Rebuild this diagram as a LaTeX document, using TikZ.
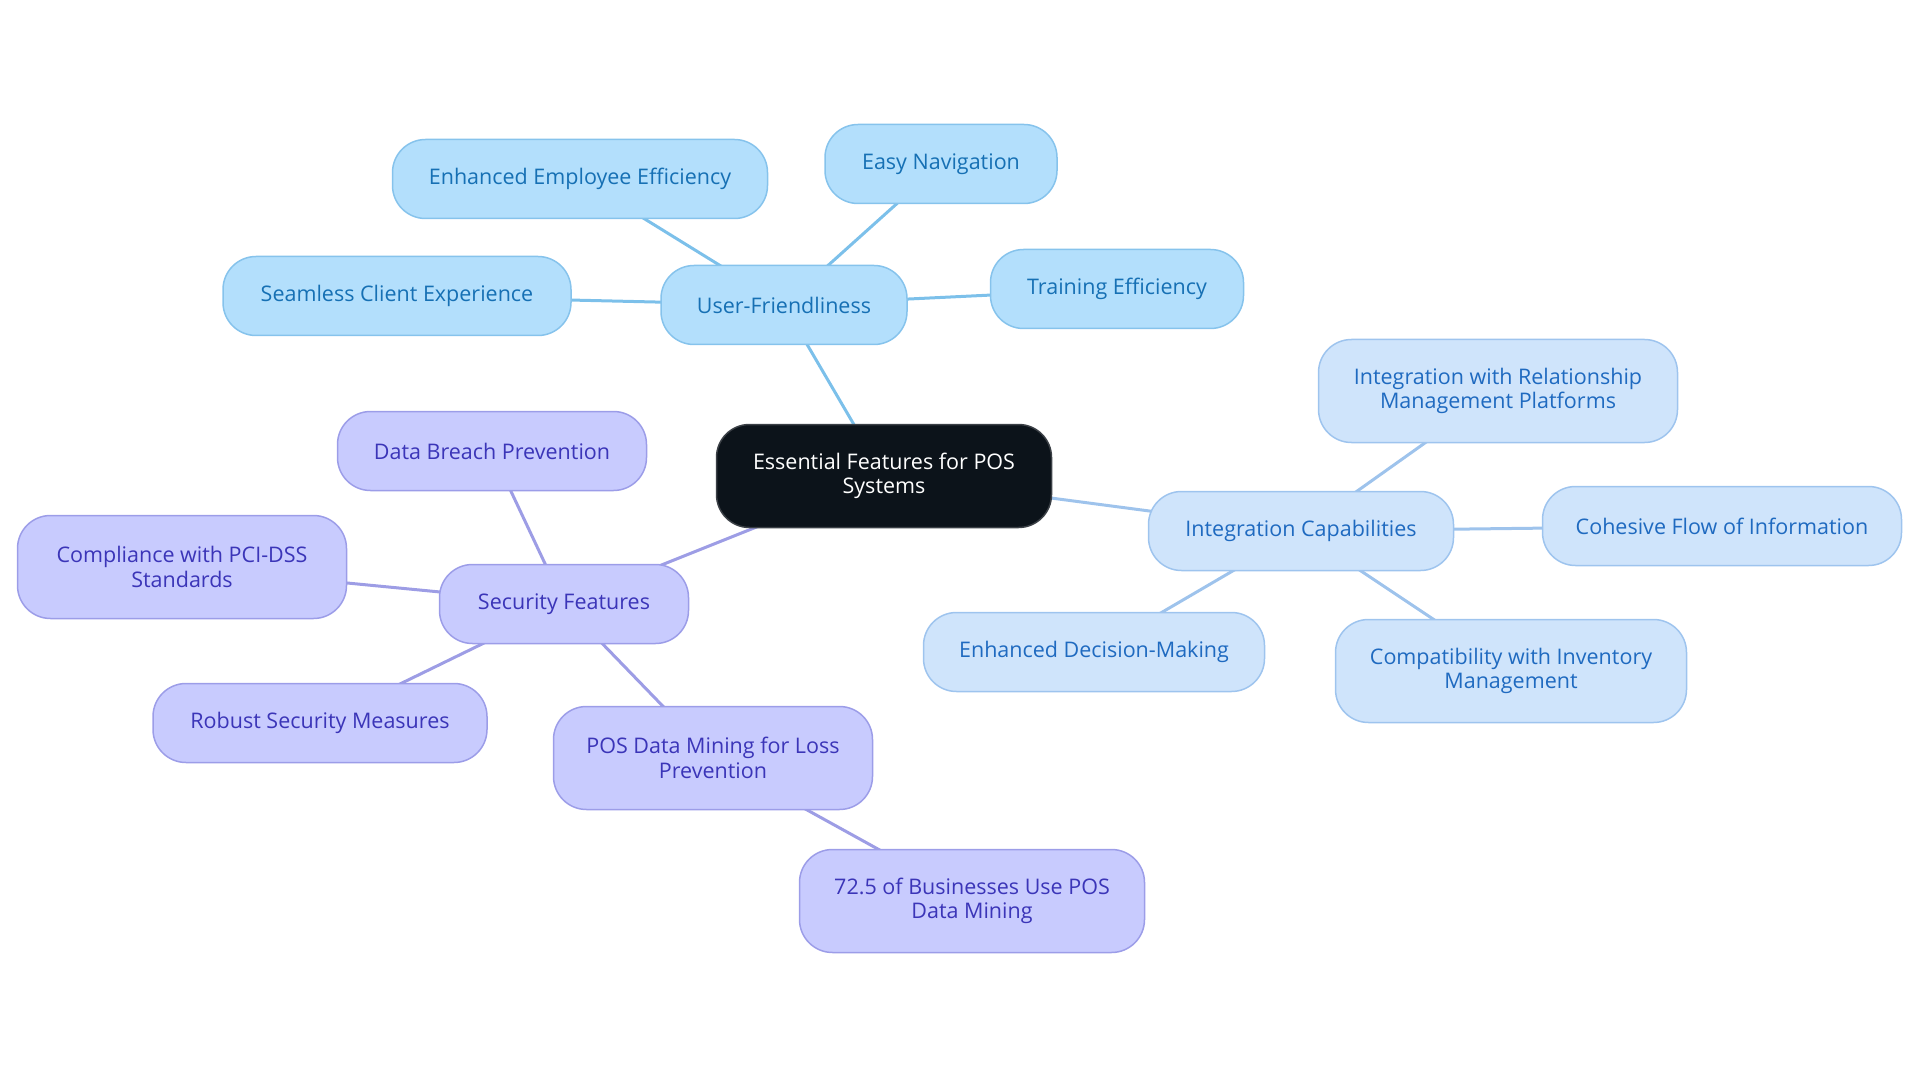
\documentclass[tikz,border=0pt]{standalone}
\usepackage{fontspec}
\setmainfont{Open Sans}
\usetikzlibrary{backgrounds}

\newlength{\du}
\setlength{\du}{1pt}

\definecolor{rootfill}{HTML}{0C131A}
\definecolor{rootline}{HTML}{3B4046}
\definecolor{userfill}{HTML}{B3DFFC}
\definecolor{userline}{HTML}{86C3EC}
\definecolor{usertext}{HTML}{1670B4}
\definecolor{userlink}{HTML}{7CC0EA}
\definecolor{intgfill}{HTML}{CFE4FB}
\definecolor{intgline}{HTML}{9EC4EE}
\definecolor{intgtext}{HTML}{1F6AC0}
\definecolor{intglink}{HTML}{9EC3EC}
\definecolor{secufill}{HTML}{C8CBFE}
\definecolor{seculine}{HTML}{9C9DE8}
\definecolor{secutext}{HTML}{3B35B8}
\definecolor{seculink}{HTML}{9D9DE5}

\begin{document}
\begin{tikzpicture}[
  box/.style={rounded corners=33\du, line width=1.5\du, align=center,
    inner sep=0pt, minimum height=79\du,
    font=\fontsize{21.5}{24.5}\selectfont},
  rootbox/.style={box, fill=rootfill, draw=rootline, text=white},
  userbox/.style={box, fill=userfill, draw=userline, text=usertext},
  intgbox/.style={box, fill=intgfill, draw=intgline, text=intgtext},
  secubox/.style={box, fill=secufill, draw=seculine, text=secutext},
  twolines/.style={minimum height=103\du},
  link/.style={line width=3\du}
]
\pgftransformyscale{-1}
\useasboundingbox (0\du,0\du) rectangle (1920\du,1083\du);

% root
\node[rootbox, twolines, minimum width=335\du] (root) at (884\du,476\du){Essential Features for POS\\Systems};

% user-friendliness branch
\node[userbox, minimum width=246\du] (user) at (784\du,305\du){User-Friendliness};
\node[userbox, minimum width=375\du] (employee) at (580\du,179\du){Enhanced Employee Efficiency};
\node[userbox, minimum width=232\du] (navigation) at (941\du,164\du){Easy Navigation};
\node[userbox, minimum width=348\du] (client) at (397\du,296\du){Seamless Client Experience};
\node[userbox, minimum width=253\du] (training) at (1117\du,289\du){Training Efficiency};

% integration branch
\node[intgbox, minimum width=305\du] (intg) at (1301\du,531\du){Integration Capabilities};
\node[intgbox, twolines, minimum width=359\du] (relation) at (1498\du,391\du){Integration with Relationship\\Management Platforms};
\node[intgbox, minimum width=359\du] (flow) at (1722\du,526\du){Cohesive Flow of Information};
\node[intgbox, minimum width=341\du] (decision) at (1094\du,652\du){Enhanced Decision-Making};
\node[intgbox, twolines, minimum width=351\du] (inventory) at (1511\du,671\du){Compatibility with Inventory\\Management};

% security branch
\node[secubox, minimum width=249\du] (secu) at (564\du,604\du){Security Features};
\node[secubox, minimum width=309\du] (breach) at (492\du,451\du){Data Breach Prevention};
\node[secubox, twolines, minimum width=329\du] (pcidss) at (182\du,567\du){Compliance with PCI-DSS\\Standards};
\node[secubox, minimum width=334\du] (robust) at (320\du,723\du){Robust Security Measures};
\node[secubox, twolines, minimum width=319\du] (mining) at (713\du,758\du){POS Data Mining for Loss\\Prevention};
\node[secubox, twolines, minimum width=345\du] (business) at (972\du,901\du){72.5 of Businesses Use POS\\Data Mining};

\begin{scope}[on background layer]
\draw[link, userlink] (root.center) -- (user.center);
\foreach \leaf in {employee,navigation,client,training}
  \draw[link, userlink] (user.center) -- (\leaf.center);
\draw[link, intglink] (root.center) -- (intg.center);
\foreach \leaf in {relation,flow,decision,inventory}
  \draw[link, intglink] (intg.center) -- (\leaf.center);
\draw[link, seculink] (root.center) -- (secu.center);
\foreach \leaf in {breach,pcidss,robust,mining}
  \draw[link, seculink] (secu.center) -- (\leaf.center);
\draw[link, seculink] (mining.center) -- (business.center);
\end{scope}
\end{tikzpicture}
\end{document}
